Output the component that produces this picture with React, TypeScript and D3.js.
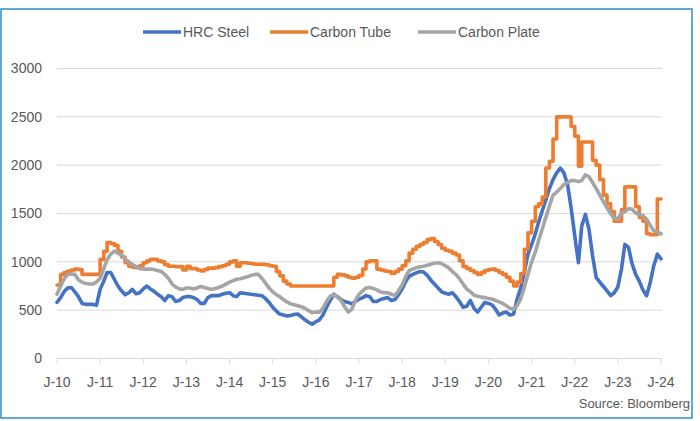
import React from "react";
import * as d3 from "d3";

// monthly observations, Jan 2010 .. Jan 2024
const hrcSteel = [
  580, 630, 690, 730, 735, 690, 640, 570, 560, 560, 560, 550,
  715, 800, 890, 890, 820, 750, 700, 660, 680, 715, 670, 680,
  720, 750, 720, 695, 665, 640, 600, 650, 640, 590, 600, 630,
  640, 640, 630, 610, 570, 570, 630, 650, 650, 650, 665, 675,
  680, 650, 640, 680, 675, 670, 665, 660, 655, 650, 620, 580,
  530, 490, 460, 450, 440, 445, 455, 460, 430, 400, 375, 355,
  380, 400, 450, 530, 600, 665, 640, 610, 590, 580, 565, 590,
  615, 630, 650, 640, 590, 590, 610, 620, 630, 600, 610, 660,
  720, 800, 850, 870, 885, 900, 895, 860, 810, 770, 730, 690,
  675, 665, 680, 640, 590, 530, 540, 600, 520, 480, 530, 580,
  570, 555, 510, 450, 470, 480, 450, 460, 620, 730, 900, 1080,
  1180, 1290, 1410, 1530, 1640, 1760, 1850, 1920, 1970, 1920, 1800, 1560,
  1270, 990, 1370, 1490, 1340, 1060, 840, 790, 745, 700, 650, 680,
  740, 930, 1180, 1150, 980, 870, 800, 710, 650, 780, 960, 1080,
  1030,
];

const carbonTube = [
  760, 870, 890, 905, 915, 925, 920, 870, 870, 870, 870, 870,
  1025, 1110, 1200, 1190, 1170, 1110, 1050, 990, 955, 945, 940, 960,
  990, 1010, 1025, 1025, 1010, 1000, 970, 955, 955, 950, 950, 915,
  955, 930, 930, 915, 905, 920, 935, 935, 940, 950, 960, 975,
  1000, 1010, 955, 990, 990, 985, 980, 975, 975, 975, 970, 960,
  955, 900, 855, 800, 770, 750, 750, 750, 750, 750, 750, 750,
  750, 750, 750, 750, 750, 840, 870, 865, 855, 840, 830, 840,
  860, 925, 1000, 1010, 1010, 925, 915, 905, 900, 880, 900, 925,
  960, 1010, 1090, 1130, 1160, 1180, 1200, 1230, 1240, 1210, 1180, 1140,
  1120, 1110, 1090, 1070, 1010, 950, 930, 910, 890, 870, 890, 910,
  920, 925, 910, 890, 870, 840, 800, 750, 790, 880, 1130, 1300,
  1420, 1570, 1600, 1670, 1970, 2040, 2270, 2500, 2500, 2500, 2500, 2400,
  2300, 1990, 2240, 2240, 2240, 2050, 2000, 1850, 1690, 1600, 1520, 1420,
  1420, 1540, 1775, 1775, 1775, 1570, 1460, 1420, 1290, 1280, 1280, 1650,
  1650,
];

const carbonPlate = [
  665, 750, 820, 870, 875, 870, 815, 790, 775, 770, 770, 790,
  830, 930, 1020, 1080, 1110, 1090, 1070, 1025, 1000, 970, 955, 930,
  925, 925, 925, 920, 910, 900, 870, 830, 770, 740, 720, 715,
  730, 730, 720, 730, 745, 735, 725, 715, 725, 735, 750, 770,
  790, 805, 820, 825, 835, 845, 860, 870, 870, 830, 780, 730,
  690, 660, 640, 610, 585, 565, 555, 545, 535, 520, 495, 475,
  480, 480, 520, 590, 645, 660, 635, 600, 535, 480, 510, 600,
  665, 700, 730, 735, 725, 710, 690, 680, 680, 665, 650, 700,
  760, 850, 910, 925, 940, 950, 955, 965, 975, 985, 990, 980,
  960, 935, 900, 870, 825, 770, 720, 690, 655, 645, 635, 630,
  620, 615, 600, 585, 570, 545, 520, 510, 550, 620, 740, 870,
  1000, 1100, 1220, 1340, 1460, 1580, 1690, 1720, 1760, 1800, 1820, 1840,
  1840, 1830, 1840, 1900, 1880, 1820, 1760, 1690, 1620, 1560, 1500, 1450,
  1450, 1500, 1520, 1550, 1545, 1505, 1490, 1480, 1440, 1380, 1320, 1310,
  1290,
];

const yearLabels = [
  "J-10", "J-11", "J-12", "J-13", "J-14", "J-15", "J-16", "J-17",
  "J-18", "J-19", "J-20", "J-21", "J-22", "J-23", "J-24",
];
const yTicks = [0, 500, 1000, 1500, 2000, 2500, 3000];

const series = [
  { name: "HRC Steel", values: hrcSteel, color: "#4472C4", step: false },
  { name: "Carbon Tube", values: carbonTube, color: "#ED7D31", step: true },
  { name: "Carbon Plate", values: carbonPlate, color: "#A5A5A5", step: false },
];

const months = d3.timeMonth.range(new Date(2010, 0, 1), new Date(2024, 0, 2));
const yearTicks = yearLabels.map((_, i) => new Date(2010 + i, 0, 1));

const W = 700;
const H = 421;
const font = "'Liberation Sans', Arial, sans-serif";
const textColor = "#595959";

export default function App() {
  const x = d3
    .scaleTime()
    .domain([new Date(2010, 0, 1), new Date(2024, 0, 1)])
    .range([57, 661]);
  const y = d3.scaleLinear().domain([0, 3000]).range([358.5, 68.5]);

  const legendPos = [143, 270, 418];

  return (
    <svg
      width={W}
      height={H}
      style={{ position: "absolute", left: 0, top: 0, background: "#fff" }}
    >
      <rect x={1} y={9} width={691} height={409} fill="#fff" stroke="#2E8BCB" strokeWidth={1.5} />

      {/* gridlines */}
      {yTicks.map((t) => (
        <line key={t} x1={57} x2={662} y1={y(t)} y2={y(t)} stroke="#D9D9D9" strokeWidth={1} />
      ))}
      {yTicks.map((t) => (
        <text
          key={"l" + t}
          x={42}
          y={y(t)}
          dy="0.35em"
          textAnchor="end"
          fontFamily={font}
          fontSize={14}
          fill={textColor}
        >
          {t}
        </text>
      ))}

      {/* x axis ticks */}
      {yearTicks.map((d, i) => (
        <g key={i}>
          <line x1={x(d)} x2={x(d)} y1={y(0)} y2={y(0) + 5} stroke="#D9D9D9" />
          <text
            x={x(d)}
            y={387}
            textAnchor="middle"
            fontFamily={font}
            fontSize={14}
            fill={textColor}
          >
            {yearLabels[i]}
          </text>
        </g>
      ))}

      {series.map((s) => {
        const line = d3
          .line<number>()
          .x((_, i) => x(months[i]))
          .y((v) => y(v))
          .curve(s.step ? d3.curveStepAfter : d3.curveLinear);
        return (
          <path
            key={s.name}
            d={line(s.values) || ""}
            fill="none"
            stroke={s.color}
            strokeWidth={3.6}
            strokeLinejoin="round"
            strokeLinecap="round"
          />
        );
      })}

      {/* legend */}
      {series.map((s, i) => (
        <g key={"lg" + s.name} transform={`translate(${legendPos[i]},32)`}>
          <line x1={0} x2={38} y1={0} y2={0} stroke={s.color} strokeWidth={3.6} />
          <text x={40} y={0} dy="0.35em" fontFamily={font} fontSize={14} fill={textColor}>
            {s.name}
          </text>
        </g>
      ))}

      <text x={690} y={408} textAnchor="end" fontFamily={font} fontSize={13} fill={textColor}>
        Source: Bloomberg
      </text>
    </svg>
  );
}
